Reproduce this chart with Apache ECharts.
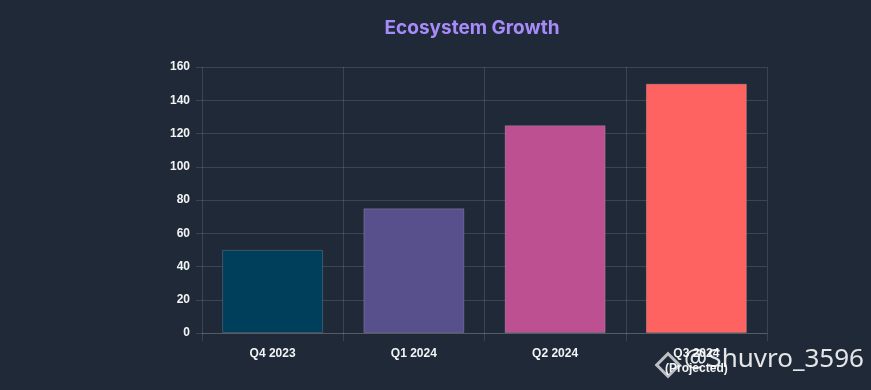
<!DOCTYPE html>
<html>
<head>
<meta charset="utf-8">
<script src="https://cdn.jsdelivr.net/npm/echarts@6/dist/echarts.min.js"></script>
<style>
html,body{margin:0;padding:0;background:#1f2937;}
#chart{width:871px;height:390px;}
</style>
</head>
<body>
<div id="chart"></div>
<script>
const titleText = 'Ecosystem Growth';
const categories = ['Q4 2023', 'Q1 2024', 'Q2 2024', 'Q3 2024\n(Projected)'];
const values = [50, 75, 125, 150];
const barColors = ['#003f5c', '#58508d', '#bc5090', '#ff6361'];
const yTicks = { min: 0, max: 160, interval: 20 };
const watermark = '@Shuvro_3596';

const chart = echarts.init(document.getElementById('chart'), null, {renderer: 'canvas'});
const gridColor = 'rgba(255,255,255,0.13)';
chart.setOption({
  backgroundColor: '#1f2937',
  animation: false,
  title: {
    text: titleText,
    left: 467, top: 14, textAlign: 'center',
    textStyle: {color: '#a78bfa', fontSize: 19, fontWeight: 'bold', fontFamily: 'Inter, "Open Sans", sans-serif'}
  },
  grid: {left: 202, right: 104, top: 67, bottom: 57, containLabel: false},
  xAxis: {
    type: 'category',
    data: categories,
    boundaryGap: true,
    axisLine: {show: true, lineStyle: {color: gridColor}},
    axisTick: {show: true, length: 8, lineStyle: {color: gridColor}},
    splitLine: {show: true, lineStyle: {color: gridColor}},
    axisLabel: {color: '#f3f4f6', fontSize: 12, fontWeight: 'bold', margin: 13, lineHeight: 15,
      fontFamily: '"Liberation Sans", Arial, sans-serif'}
  },
  yAxis: {
    type: 'value',
    min: yTicks.min, max: yTicks.max, interval: yTicks.interval,
    axisLine: {show: false},
    axisTick: {show: true, length: 6, lineStyle: {color: gridColor}},
    splitLine: {show: true, lineStyle: {color: gridColor}},
    axisLabel: {color: '#f3f4f6', fontSize: 12, fontWeight: 'bold', margin: 12,
      fontFamily: '"Liberation Sans", Arial, sans-serif'}
  },
  series: [{
    type: 'bar',
    data: values.map((v, i) => ({value: v, itemStyle: {color: barColors[i]}})),
    barWidth: '71.5%',
    itemStyle: {borderWidth: 1, borderColor: 'rgba(255,255,255,0.18)'}
  }],
  graphic: [{
    type: 'text',
    left: 684, top: 347,
    z: 100,
    style: {text: watermark, fill: 'rgba(255,255,255,0.88)',
      font: '26px "Noto Sans", "Open Sans", sans-serif'}
  }, {
    type: 'rect',
    z: 100,
    shape: {x: -8, y: -8, width: 16, height: 16},
    position: [668, 365],
    rotation: Math.PI / 4,
    style: {fill: 'none', stroke: 'rgba(255,255,255,0.7)', lineWidth: 3}
  }]
});
</script>
</body>
</html>
